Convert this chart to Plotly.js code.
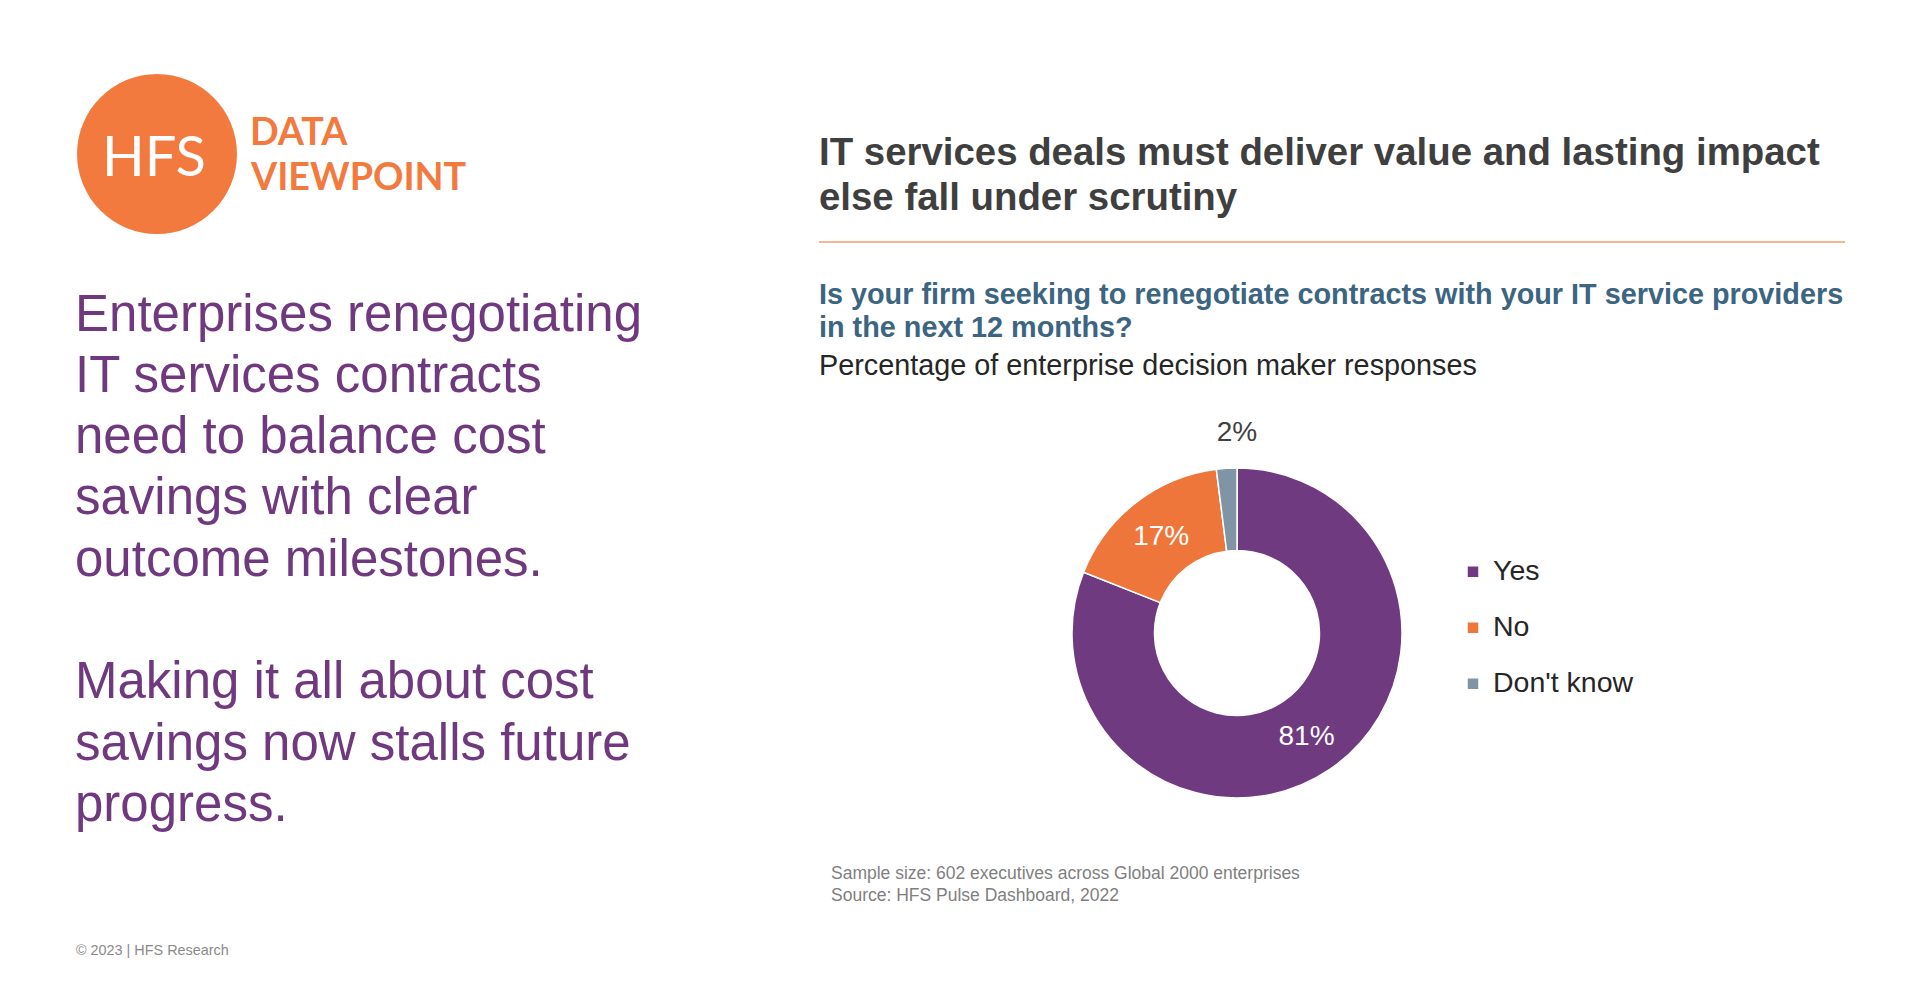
<!DOCTYPE html>
<html>
<head>
<meta charset="utf-8">
<script src="https://cdn.plot.ly/plotly-3.0.1.min.js"></script>
<style>
  html, body { margin: 0; padding: 0; background: #ffffff; }
  #chart { width: 1920px; height: 1003px; }
</style>
</head>
<body>
<div id="chart"></div>
<script>
// ---- Data ----
const categories = ['Yes', 'No', "Don't know"];
const values = [81, 17, 2];
const labelPositions = ['inside', 'inside', 'none'];   // the small slice's label sits above the ring

const titleLines = ['IT services deals must deliver value and lasting impact', 'else fall under scrutiny'];
const questionLines = ['Is your firm seeking to renegotiate contracts with your IT service providers', 'in the next 12 months?'];
const subtitleText = 'Percentage of enterprise decision maker responses';
const leftLines = [
  'Enterprises renegotiating', 'IT services contracts', 'need to balance cost',
  'savings with clear', 'outcome milestones.', '',
  'Making it all about cost', 'savings now stalls future', 'progress.'
];
const footnoteLines = ['Sample size: 602 executives across Global 2000 enterprises', 'Source: HFS Pulse Dashboard, 2022'];
const copyrightText = '\u00A9 2023 | HFS Research';
const logoMark = 'HFS';
const logoWords = ['DATA', 'VIEWPOINT'];

// ---- Styles / layout helpers ----
const W = 1920, H = 1003;
const px = x => x / W;
const py = y => 1 - y / H;
const sliceColors = ['#703A80', '#EF763B', '#7F95A5'];
const labelColors = ['#ffffff', '#ffffff', '#404040'];
const FONT = '"Liberation Sans", Arial, sans-serif';

const annotations = [];
function addText(text, x, y, size, color, opts) {
  opts = opts || {};
  annotations.push({
    text: opts.bold ? '<b>' + text + '</b>' : text,
    x: px(x), y: py(y), xref: 'paper', yref: 'paper',
    xanchor: opts.xanchor || 'left', yanchor: 'middle',
    showarrow: false,
    font: { family: opts.family || FONT, size: size, color: color }
  });
}

// Title
titleLines.forEach((t, i) => addText(t, 817, 152 + i * 45, 38.4, '#3F3F3F', { bold: true }));
// Question
questionLines.forEach((t, i) => addText(t, 817, 294 + i * 33, 28.8, '#3B6581', { bold: true }));
addText(subtitleText, 817, 365, 28.8, '#262626');
// Left narrative
leftLines.forEach((t, i) => { if (t) addText(t, 73, 313 + i * 61.3, 51, '#70397F'); });
// Footnotes
footnoteLines.forEach((t, i) => addText(t, 829, 873 + i * 22, 17.5, '#7F7F7F'));
addText(copyrightText, 74, 950, 14.4, '#8A8A8A');
// Logo
addText(logoMark, 154, 154, 56, '#ffffff', { xanchor: 'center', family: 'Lato, "Open Sans", sans-serif' });
logoWords.forEach((t, i) => addText(t, 248, 130 + i * 45, 37.7, '#F37A3E', { bold: true, family: 'Lato, "Open Sans", sans-serif' }));

const shapes = [
  { type: 'circle', xref: 'paper', yref: 'paper',
    x0: px(77), x1: px(237), y0: py(234), y1: py(74),
    fillcolor: '#F37A3E', line: { width: 0 } },
  { type: 'line', xref: 'paper', yref: 'paper',
    x0: px(819), x1: px(1845), y0: py(242), y1: py(242),
    line: { color: '#F6B48F', width: 2 } }
];

// legend labels: larger visible text inside a two-line legend entry (gives the wide item spacing)
const legendLabels = categories.map(c => '<span style="font-size:28.5px">' + c + '</span><br> ');
// label of the small slice, shown centred above the ring
const smallIdx = labelPositions.indexOf('none');
const smallLabel = '<span style="font-size:28px">' + values[smallIdx] + '%</span>';

const cx = 1237, cy = 633, r = 165, titleSpace = 31;
const trace = {
  type: 'pie',
  labels: legendLabels,
  values: values,
  sort: false,
  direction: 'clockwise',
  rotation: 0,
  hole: 0.5,
  marker: { colors: sliceColors, line: { color: '#ffffff', width: 1.5 } },
  texttemplate: '%{value}%',
  textposition: labelPositions,
  insidetextorientation: 'horizontal',
  textfont: { family: FONT, size: 28, color: labelColors },
  title: { text: smallLabel, position: 'top center', font: { family: FONT, size: 4, color: labelColors[smallIdx] } },
  domain: { x: [px(cx - r), px(cx + r)], y: [py(cy + r), py(cy - r - titleSpace)] },
  hoverinfo: 'label+percent'
};

const layout = {
  width: W, height: H,
  margin: { l: 0, r: 0, t: 0, b: 0 },
  paper_bgcolor: '#ffffff',
  plot_bgcolor: '#ffffff',
  showlegend: true,
  legend: {
    x: px(1453), y: py(552), xanchor: 'left', yanchor: 'top',
    valign: 'top',
    font: { family: FONT, size: 20.4, color: '#262626' },
    bgcolor: 'rgba(0,0,0,0)', borderwidth: 0
  },
  annotations: annotations,
  shapes: shapes
};

Plotly.newPlot('chart', [trace], layout, { displayModeBar: false, staticPlot: true });
</script>
</body>
</html>
